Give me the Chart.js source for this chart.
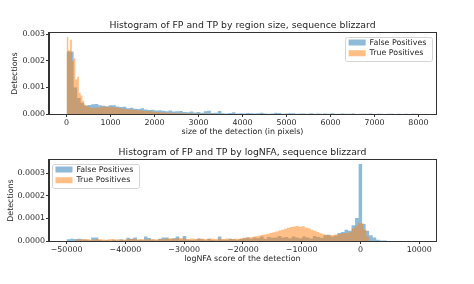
<!DOCTYPE html>
<html><head><meta charset="utf-8">
<script src="https://cdn.jsdelivr.net/npm/chart.js@4.4.1/dist/chart.umd.min.js"></script>
<style>
html,body{margin:0;padding:0;background:#fff;}
#wrap{position:relative;width:474px;height:284px;background:#fff;}
.box{position:absolute;left:0;width:474px;height:142px;}
</style></head><body>
<div id="wrap">
<div class="box" style="top:0"><canvas id="c1" width="474" height="142"></canvas></div>
<div class="box" style="top:142px"><canvas id="c2" width="474" height="142"></canvas></div>
</div>
<script>
// ---------------- data ----------------
const seriesNames = ['False Positives', 'True Positives'];

// chart 1: histogram by region size (density)
const sizeTitle = 'Histogram of FP and TP by region size, sequence blizzard';
const sizeXLabel = 'size of the detection (in pixels)';
const sizeFPStart = 0, sizeFPWidth = 80;
const sizeFP = [
  0.00235,0.00235,0.00100,0.00060,0.00042,0.00032,0.00034,0.00037,0.00038,0.00033,
  0.00031,0.00029,0.00033,0.00033,0.00028,0.00026,0.00027,0.00022,0.00024,0.00020,
  0.00019,0.00022,0.00017,0.00015,0.00016,0.00013,0.00014,0.00012,0.00010,0.00013,
  0.00009,0.00010,0.00011,0.00008,0.00007,0.00009,0.00006,0.00008,0.00005,0.00010,
  0.00012,0.00004,0.00005,0.00011,0.00003,0.00002,0.00004,0.00007,0.00002,0.00003,
  0.00002,0.00004,0.00003,0.00002,0.00003,0.00005,0.00002,0.00001,0.00002,0.00005,
  0.00004,0.00001,0.00002,0.00003,0.00003,0.00001,0.00002,0.00002,0.00001,0.00003,
  0.00001,0.00002,0.00001,0.00002,0.00001,0.00003,0.00001,0.00001,0.00002,0.00001,
  0.00001,0.00002,0,0.00001,0.00001,0.00001,0.00002,0,0.00001,0.00001,
  0,0.00001,0.00001,0,0.00001,0,0.00001,0,0.00001,0.00001];
const sizeTPStart = 0, sizeTPWidth = 40;
const sizeTP = [
  0.0029,0.0024,0.0028,0.0020,0.0021,0.0013,0.0014,0.0008,0.0007,0.0005,
  0.00035,0.00030,0.00028,0.00025,0.00022,0.00024,0.00022,0.00025,0.00023,0.00026,
  0.00027,0.00028,0.00026,0.00027,0.00025,0.00028,0.00026,0.00024,0.00025,0.00022,
  0.00023,0.00020,0.00021,0.00018,0.00019,0.00017,0.00018,0.00016,0.00015,0.00016,
  0.00014,0.00013,0.00014,0.00012,0.00011,0.00012,0.00010,0.00011,0.00009,0.00008,
  0.00009,0.00007,0.00008,0.00006,0.00007,0.00006,0.00005,0.00006,0.00004,0.00005,
  0.00004,0.00005,0.00003,0.00004,0.00003,0.00004,0.00003,0.00002,0.00003,0.00002,
  0.00003,0.00002,0.00002,0.00001,0.00002,0.00001,0.00002,0.00001,0.00001,0.00002,
  0.00001,0.00001,0.00001,0,0.00001];
const sizeXTicks = [0,1000,2000,3000,4000,5000,6000,7000,8000];
const sizeYTicks = [0,0.001,0.002,0.003];

// chart 2: histogram by logNFA (density)
const nfaTitle = 'Histogram of FP and TP by logNFA, sequence blizzard';
const nfaXLabel = 'logNFA score of the detection';
const nfaFPStart = -50000, nfaFPWidth = 598.5;
const nfaFP = [
  0.8e-5,1.0e-5,0.9e-5,1.0e-5,0.8e-5,0.5e-5,0.3e-5,1.6e-5,1.5e-5,0.4e-5,
  0.2e-5,0.3e-5,0.2e-5,0.5e-5,0.2e-5,0.8e-5,0.3e-5,1.4e-5,1.0e-5,1.5e-5,
  0.6e-5,0.4e-5,2.0e-5,1.3e-5,0.5e-5,0.3e-5,1.0e-5,1.5e-5,1.6e-5,0.8e-5,
  1.2e-5,2.0e-5,0.7e-5,2.2e-5,0.6e-5,0.4e-5,0.6e-5,1.1e-5,0.8e-5,0.3e-5,
  1.0e-5,0.4e-5,0.3e-5,2.0e-5,0.6e-5,0.5e-5,1.0e-5,0.8e-5,0.6e-5,0.9e-5,
  1.2e-5,1.5e-5,1.0e-5,1.6e-5,1.2e-5,2.0e-5,1.0e-5,1.8e-5,1.4e-5,1.6e-5,
  2.2e-5,1.5e-5,1.8e-5,1.2e-5,2.0e-5,1.5e-5,1.2e-5,2.0e-5,1.6e-5,1.1e-5,
  2.2e-5,1.8e-5,1.4e-5,2.5e-5,2.8e-5,2.0e-5,2.4e-5,3.5e-5,4.0e-5,5.0e-5,
  4.5e-5,7.0e-5,10.2e-5,34.0e-5,7.5e-5,4.5e-5,2.5e-5,1.5e-5,0.6e-5,0.2e-5,
  0.2e-5,0,0.05e-5,0,0,0.05e-5,0,0,0,0.05e-5];
const nfaTPStart = -48500, nfaTPWidth = 500;
const nfaTP = [
  0.6e-5,0.8e-5,0.7e-5,0.9e-5,0.8e-5,0.6e-5,0.7e-5,0.9e-5,0.8e-5,0.7e-5,
  0.6e-5,0.8e-5,0.9e-5,0.7e-5,0.8e-5,0.6e-5,0.7e-5,0.8e-5,0.9e-5,1.0e-5,
  0.8e-5,0.7e-5,0.9e-5,0.8e-5,0.7e-5,0.8e-5,0.9e-5,0.7e-5,0.8e-5,0.9e-5,
  1.0e-5,1.1e-5,1.2e-5,1.0e-5,1.1e-5,1.3e-5,1.2e-5,1.0e-5,0.9e-5,1.1e-5,
  1.0e-5,0.9e-5,1.1e-5,1.0e-5,0.9e-5,1.0e-5,1.1e-5,0.9e-5,1.0e-5,1.0e-5,
  0.9e-5,1.1e-5,1.0e-5,0.9e-5,1.0e-5,1.0e-5,1.2e-5,1.4e-5,1.5e-5,1.7e-5,
  1.9e-5,2.1e-5,2.3e-5,2.6e-5,2.9e-5,3.2e-5,3.5e-5,3.9e-5,4.2e-5,4.6e-5,
  5.0e-5,5.4e-5,5.9e-5,6.2e-5,6.4e-5,6.6e-5,6.3e-5,6.5e-5,6.0e-5,5.6e-5,
  5.0e-5,4.5e-5,4.0e-5,3.4e-5,3.0e-5,2.8e-5,2.6e-5,2.7e-5,2.9e-5,3.0e-5,
  3.2e-5,3.5e-5,3.4e-5,4.0e-5,5.5e-5,6.5e-5,7.8e-5,7.8e-5,5.0e-5,2.0e-5];
const nfaXTicks = [-50000,-40000,-30000,-20000,-10000,0,10000];
const nfaYTicks = [0,0.0001,0.0002,0.0003];

// ---------------- styling ----------------
const FONT = 'DejaVu Sans';
const TXT = '#262626';
const AX = '#333333';
const FP_COLOR = 'rgba(31,119,180,0.5)';
const TP_COLOR = 'rgba(255,127,14,0.5)';
const TICK_FS = 7.9, TITLE_FS = 9.3, LEG_FS = 7.9, BOX_W = 17, BOX_H = 6, LEG_PAD = 3;

function stepPoints(start, width, heights) {
  const pts = heights.map((h, i) => ({x: start + i * width, y: h}));
  pts.push({x: start + heights.length * width, y: 0});
  return pts;
}
function xRange(specs) {
  const lo = Math.min(...specs.map(s => s[0]));
  const hi = Math.max(...specs.map(s => s[0] + s[1] * s[2].length));
  const pad = 0.05 * (hi - lo);
  return [lo - pad, hi + pad];
}
const minusFmt = v => String(v).replace('-', '\u2212');

const mplFrame = {
  id: 'mplFrame',
  afterLayout(chart, args, opts) {
    const lg = chart.legend, a = chart.chartArea;
    if (!lg) return;
    const ctx = chart.ctx;
    ctx.save();
    ctx.font = LEG_FS + 'px "' + FONT + '"';
    const textW = Math.max(...chart.data.datasets.map(d => ctx.measureText(d.label).width));
    ctx.restore();
    const pitch = LEG_FS + LEG_PAD;
    const frameW = 3.5 + BOX_W + 6.0 + textW + 3.5;
    const frameH = 11 + pitch + 2.5;
    const fx = opts.side === 'right' ? a.right - 4 - frameW : a.left + 3;
    const fy = a.top + 3.5;
    const newLeft = fx + 3.5 - LEG_PAD;
    const newTop = fy + 5.8 - LEG_FS / 2 - LEG_PAD;
    const dx = newLeft - lg.left, dy = newTop - lg.top;
    lg.left += dx; lg.right += dx; lg.top += dy; lg.bottom += dy;
    chart.$legendFrame = {x: fx, y: fy, w: frameW, h: frameH};
  },
  beforeDraw(chart) {
    const f = chart.$legendFrame;
    if (!f) return;
    const ctx = chart.ctx;
    ctx.save();
    ctx.beginPath();
    ctx.roundRect(Math.round(f.x) + 0.5, Math.round(f.y) + 0.5, Math.round(f.w), Math.round(f.h), 2);
    ctx.fillStyle = 'rgba(255,255,255,0.8)';
    ctx.fill();
    ctx.strokeStyle = '#d4d4d4';
    ctx.lineWidth = 1;
    ctx.stroke();
    ctx.restore();
  },
  afterDatasetsDraw(chart) {
    const a = chart.chartArea, ctx = chart.ctx;
    ctx.save();
    ctx.strokeStyle = AX;
    ctx.lineWidth = 1;
    ctx.strokeRect(Math.round(a.left) - 0.5, Math.round(a.top) - 0.5, Math.round(a.right - a.left) + 1, Math.round(a.bottom - a.top) + 1);
    ctx.restore();
  }
};

function makeChart(id, p) {
  const [xmin, xmax] = xRange([[p.fpStart, p.fpWidth, p.fp], [p.tpStart, p.tpWidth, p.tp]]);
  const ymax = 1.05 * Math.max(...p.fp, ...p.tp);
  const tickFont = {family: FONT, size: TICK_FS};
  return new Chart(document.getElementById(id), {
    type: 'line',
    data: {
      datasets: [
        {label: seriesNames[0], data: stepPoints(p.fpStart, p.fpWidth, p.fp), backgroundColor: FP_COLOR,
         borderColor: 'rgba(0,0,0,0)', borderWidth: 0, fill: 'origin', stepped: true, pointRadius: 0, order: 2},
        {label: seriesNames[1], data: stepPoints(p.tpStart, p.tpWidth, p.tp), backgroundColor: TP_COLOR,
         borderColor: 'rgba(0,0,0,0)', borderWidth: 0, fill: 'origin', stepped: true, pointRadius: 0, order: 1}
      ]
    },
    plugins: [mplFrame],
    options: {
      responsive: false,
      devicePixelRatio: 1,
      animation: false,
      events: [],
      layout: {padding: {left: 0, right: 38, top: 0, bottom: p.padBottom}},
      plugins: {
        mplFrame: {side: p.legendSide},
        tooltip: {enabled: false},
        title: {display: true, fullSize: false, text: p.title, color: TXT, font: {family: FONT, size: TITLE_FS, weight: 'normal'},
                padding: {top: p.titleTop, bottom: 2}},
        legend: {display: true, position: 'chartArea', align: 'start',
                 labels: {color: TXT, font: {family: FONT, size: LEG_FS}, boxWidth: BOX_W, boxHeight: BOX_H, padding: LEG_PAD,
                          sort: (a, b) => a.datasetIndex - b.datasetIndex}}
      },
      scales: {
        x: {
          type: 'linear', min: xmin, max: xmax,
          afterBuildTicks: s => { s.ticks = p.xTicks.map(v => ({value: v})); },
          afterFit: s => { s.height = 24; },
          ticks: {autoSkip: false, maxRotation: 0, padding: 1.5, color: TXT, font: tickFont, callback: v => minusFmt(v)},
          grid: {display: true, drawOnChartArea: false, drawTicks: true, tickLength: 3, color: AX, lineWidth: 1},
          border: {display: true, color: AX, width: 1},
          title: {display: true, text: p.xLabel, color: TXT, font: tickFont, padding: {top: 0, bottom: 1}}
        },
        y: {
          type: 'linear', min: 0, max: ymax,
          afterBuildTicks: s => { s.ticks = p.yTicks.map(v => ({value: v})); },
          afterFit: s => { s.width = 49; },
          ticks: {autoSkip: false, padding: 1, color: TXT, font: tickFont, callback: v => v.toFixed(p.yDigits)},
          grid: {display: true, drawOnChartArea: false, drawTicks: true, tickLength: 3, color: AX, lineWidth: 1},
          border: {display: true, color: AX, width: 1},
          title: {display: true, text: 'Detections', color: TXT, font: tickFont, padding: {top: p.yTitlePad, bottom: 0}}
        }
      }
    }
  });
}

makeChart('c1', {
  title: sizeTitle, xLabel: sizeXLabel,
  fpStart: sizeFPStart, fpWidth: sizeFPWidth, fp: sizeFP,
  tpStart: sizeTPStart, tpWidth: sizeTPWidth, tp: sizeTP,
  xTicks: sizeXTicks, yTicks: sizeYTicks, yDigits: 3,
  legendSide: 'right', titleTop: 20, padBottom: 4, yTitlePad: 10
});
makeChart('c2', {
  title: nfaTitle, xLabel: nfaXLabel,
  fpStart: nfaFPStart, fpWidth: nfaFPWidth, fp: nfaFP,
  tpStart: nfaTPStart, tpWidth: nfaTPWidth, tp: nfaTP,
  xTicks: nfaXTicks, yTicks: nfaYTicks, yDigits: 4,
  legendSide: 'left', titleTop: 5, padBottom: 19, yTitlePad: 6
});
</script>
</body></html>
